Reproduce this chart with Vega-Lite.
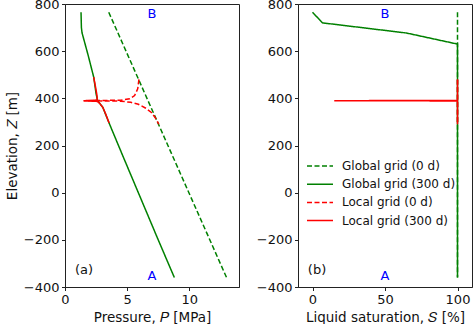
{
  "$schema": "https://vega.github.io/schema/vega-lite/v6.json",
  "padding": {"left": 4, "top": -3, "right": 0, "bottom": 0},
  "config": {
    "font": "DejaVu Sans",
    "view": {"stroke": "#222", "strokeWidth": 1},
    "axis": {"grid": false, "domainColor": "#222", "tickColor": "#222", "tickSize": 3.5, "labelFontSize": 13, "labelColor": "#111", "titleFontSize": 13.5, "titleFontWeight": "normal", "titleColor": "#111", "labelPadding": 2.5, "labelFlush": false},
    "concat": {"spacing": 15}
  },
  "resolve": {"scale": {"color": "independent", "strokeDash": "independent"}, "legend": {"color": "independent", "strokeDash": "independent"}},
  "datasets": {
    "left": [
      {"series": "Global grid (0 d)", "i": 0, "P": 3.52, "Z": 765},
      {"series": "Global grid (0 d)", "i": 1, "P": 13.0, "Z": -360},
      {"series": "Global grid (300 d)", "i": 0, "P": 1.29, "Z": 765},
      {"series": "Global grid (300 d)", "i": 1, "P": 1.32, "Z": 700},
      {"series": "Global grid (300 d)", "i": 2, "P": 1.37, "Z": 678},
      {"series": "Global grid (300 d)", "i": 3, "P": 1.87, "Z": 581},
      {"series": "Global grid (300 d)", "i": 4, "P": 2.31, "Z": 490},
      {"series": "Global grid (300 d)", "i": 5, "P": 2.5, "Z": 420},
      {"series": "Global grid (300 d)", "i": 6, "P": 2.6, "Z": 395},
      {"series": "Global grid (300 d)", "i": 7, "P": 2.7, "Z": 385},
      {"series": "Global grid (300 d)", "i": 8, "P": 3.04, "Z": 362},
      {"series": "Global grid (300 d)", "i": 9, "P": 3.55, "Z": 295},
      {"series": "Global grid (300 d)", "i": 10, "P": 4.7, "Z": 150},
      {"series": "Global grid (300 d)", "i": 11, "P": 5.9, "Z": 0},
      {"series": "Global grid (300 d)", "i": 12, "P": 7.5, "Z": -200},
      {"series": "Global grid (300 d)", "i": 13, "P": 8.8, "Z": -360},
      {"series": "Local grid (0 d)", "i": 0, "P": 5.95, "Z": 480},
      {"series": "Local grid (0 d)", "i": 1, "P": 5.85, "Z": 440},
      {"series": "Local grid (0 d)", "i": 2, "P": 5.6, "Z": 412},
      {"series": "Local grid (0 d)", "i": 3, "P": 5.2, "Z": 398},
      {"series": "Local grid (0 d)", "i": 4, "P": 4.5, "Z": 392},
      {"series": "Local grid (0 d)", "i": 5, "P": 1.5, "Z": 390},
      {"series": "Local grid (0 d)", "i": 6, "P": 4.5, "Z": 388},
      {"series": "Local grid (0 d)", "i": 7, "P": 5.3, "Z": 383},
      {"series": "Local grid (0 d)", "i": 8, "P": 5.9, "Z": 375},
      {"series": "Local grid (0 d)", "i": 9, "P": 6.5, "Z": 358},
      {"series": "Local grid (0 d)", "i": 10, "P": 6.95, "Z": 340},
      {"series": "Local grid (0 d)", "i": 11, "P": 7.3, "Z": 315},
      {"series": "Local grid (0 d)", "i": 12, "P": 7.55, "Z": 290},
      {"series": "Local grid (300 d)", "i": 0, "P": 2.31, "Z": 490},
      {"series": "Local grid (300 d)", "i": 1, "P": 2.45, "Z": 450},
      {"series": "Local grid (300 d)", "i": 2, "P": 2.55, "Z": 420},
      {"series": "Local grid (300 d)", "i": 3, "P": 2.6, "Z": 400},
      {"series": "Local grid (300 d)", "i": 4, "P": 2.55, "Z": 392},
      {"series": "Local grid (300 d)", "i": 5, "P": 1.5, "Z": 390},
      {"series": "Local grid (300 d)", "i": 6, "P": 2.6, "Z": 387},
      {"series": "Local grid (300 d)", "i": 7, "P": 2.8, "Z": 378},
      {"series": "Local grid (300 d)", "i": 8, "P": 3.04, "Z": 362},
      {"series": "Local grid (300 d)", "i": 9, "P": 3.3, "Z": 330},
      {"series": "Local grid (300 d)", "i": 10, "P": 3.55, "Z": 295}
    ],
    "right": [
      {"series": "Global grid (0 d)", "i": 0, "S": 100, "Z": 765},
      {"series": "Global grid (0 d)", "i": 1, "S": 100, "Z": -360},
      {"series": "Global grid (300 d)", "i": 0, "S": 0, "Z": 765},
      {"series": "Global grid (300 d)", "i": 1, "S": 6.9, "Z": 720},
      {"series": "Global grid (300 d)", "i": 2, "S": 64.8, "Z": 677},
      {"series": "Global grid (300 d)", "i": 3, "S": 100, "Z": 630},
      {"series": "Global grid (300 d)", "i": 4, "S": 100, "Z": -360},
      {"series": "Local grid (0 d)", "i": 0, "S": 100, "Z": 480},
      {"series": "Local grid (0 d)", "i": 1, "S": 100, "Z": 290},
      {"series": "Local grid (300 d)", "i": 0, "S": 100, "Z": 480},
      {"series": "Local grid (300 d)", "i": 1, "S": 100, "Z": 391},
      {"series": "Local grid (300 d)", "i": 2, "S": 15, "Z": 390},
      {"series": "Local grid (300 d)", "i": 3, "S": 100, "Z": 389},
      {"series": "Local grid (300 d)", "i": 4, "S": 100, "Z": 290}
    ],
    "leftText": [
      {"kind": "panel", "label": "(a)", "P": 0.8, "Z": -330},
      {"kind": "point", "label": "A", "P": 7.0, "Z": -355},
      {"kind": "point", "label": "B", "P": 7.0, "Z": 758}
    ],
    "rightText": [
      {"kind": "panel", "label": "(b)", "S": -3.2, "Z": -327},
      {"kind": "point", "label": "A", "S": 50, "Z": -355},
      {"kind": "point", "label": "B", "S": 50, "Z": 757}
    ]
  },
  "hconcat": [
    {
      "width": 174,
      "height": 283,
      "layer": [
        {
          "data": {"name": "left"},
          "mark": {"type": "line", "strokeWidth": 1.5},
          "encoding": {
            "x": {"field": "P", "type": "quantitative", "scale": {"domain": [0, 14]}, "axis": {"values": [0, 5, 10], "title": "Pressure, 𝑃 [MPa]"}},
            "y": {"field": "Z", "type": "quantitative", "scale": {"domain": [-400, 800]}, "axis": {"values": [-400, -200, 0, 200, 400, 600, 800], "title": "Elevation, 𝑍 [m]"}},
            "color": {"field": "series", "type": "nominal", "scale": {"domain": ["Global grid (0 d)", "Global grid (300 d)", "Local grid (0 d)", "Local grid (300 d)"], "range": ["#008000", "#008000", "#ff0000", "#ff0000"]}, "legend": null},
            "strokeDash": {"field": "series", "type": "nominal", "scale": {"domain": ["Global grid (0 d)", "Global grid (300 d)", "Local grid (0 d)", "Local grid (300 d)"], "range": [[5, 2.5], [1, 0], [5, 2.5], [1, 0]]}, "legend": null},
            "order": {"field": "i", "type": "quantitative"}
          }
        },
        {
          "data": {"name": "leftText"},
          "transform": [{"filter": "datum.kind === 'panel'"}],
          "mark": {"type": "text", "fontSize": 13, "align": "left", "baseline": "middle", "color": "#111"},
          "encoding": {
            "x": {"field": "P", "type": "quantitative"},
            "y": {"field": "Z", "type": "quantitative"},
            "text": {"field": "label"}
          }
        },
        {
          "data": {"name": "leftText"},
          "transform": [{"filter": "datum.kind === 'point'"}],
          "mark": {"type": "text", "fontSize": 13, "align": "center", "baseline": "middle", "color": "#0000ff"},
          "encoding": {
            "x": {"field": "P", "type": "quantitative"},
            "y": {"field": "Z", "type": "quantitative"},
            "text": {"field": "label"}
          }
        }
      ]
    },
    {
      "width": 174,
      "height": 283,
      "layer": [
        {
          "data": {"name": "right"},
          "mark": {"type": "line", "strokeWidth": 1.5},
          "encoding": {
            "x": {"field": "S", "type": "quantitative", "scale": {"domain": [-10, 110]}, "axis": {"values": [0, 50, 100], "title": "Liquid saturation, 𝑆 [%]"}},
            "y": {"field": "Z", "type": "quantitative", "scale": {"domain": [-400, 800]}, "axis": {"values": [-400, -200, 0, 200, 400, 600, 800], "title": null}},
            "color": {"field": "series", "type": "nominal", "scale": {"domain": ["Global grid (0 d)", "Global grid (300 d)", "Local grid (0 d)", "Local grid (300 d)"], "range": ["#008000", "#008000", "#ff0000", "#ff0000"]},
              "legend": {"orient": "none", "legendX": 8, "legendY": 154, "title": null, "symbolType": "stroke", "symbolSize": 676, "symbolStrokeWidth": 1.5, "labelFontSize": 12, "labelColor": "#111", "clipHeight": 16, "rowPadding": 2.2, "labelOffset": 8, "padding": 0}},
            "strokeDash": {"field": "series", "type": "nominal", "scale": {"domain": ["Global grid (0 d)", "Global grid (300 d)", "Local grid (0 d)", "Local grid (300 d)"], "range": [[5, 2.5], [1, 0], [5, 2.5], [1, 0]]},
              "legend": {"orient": "none", "legendX": 8, "legendY": 154, "title": null, "symbolType": "stroke", "symbolSize": 676, "symbolStrokeWidth": 1.5, "labelFontSize": 12, "labelColor": "#111", "clipHeight": 16, "rowPadding": 2.2, "labelOffset": 8, "padding": 0}},
            "order": {"field": "i", "type": "quantitative"}
          }
        },
        {
          "data": {"name": "rightText"},
          "transform": [{"filter": "datum.kind === 'panel'"}],
          "mark": {"type": "text", "fontSize": 13, "align": "left", "baseline": "middle", "color": "#111"},
          "encoding": {
            "x": {"field": "S", "type": "quantitative"},
            "y": {"field": "Z", "type": "quantitative"},
            "text": {"field": "label"}
          }
        },
        {
          "data": {"name": "rightText"},
          "transform": [{"filter": "datum.kind === 'point'"}],
          "mark": {"type": "text", "fontSize": 13, "align": "center", "baseline": "middle", "color": "#0000ff"},
          "encoding": {
            "x": {"field": "S", "type": "quantitative"},
            "y": {"field": "Z", "type": "quantitative"},
            "text": {"field": "label"}
          }
        }
      ]
    }
  ]
}
